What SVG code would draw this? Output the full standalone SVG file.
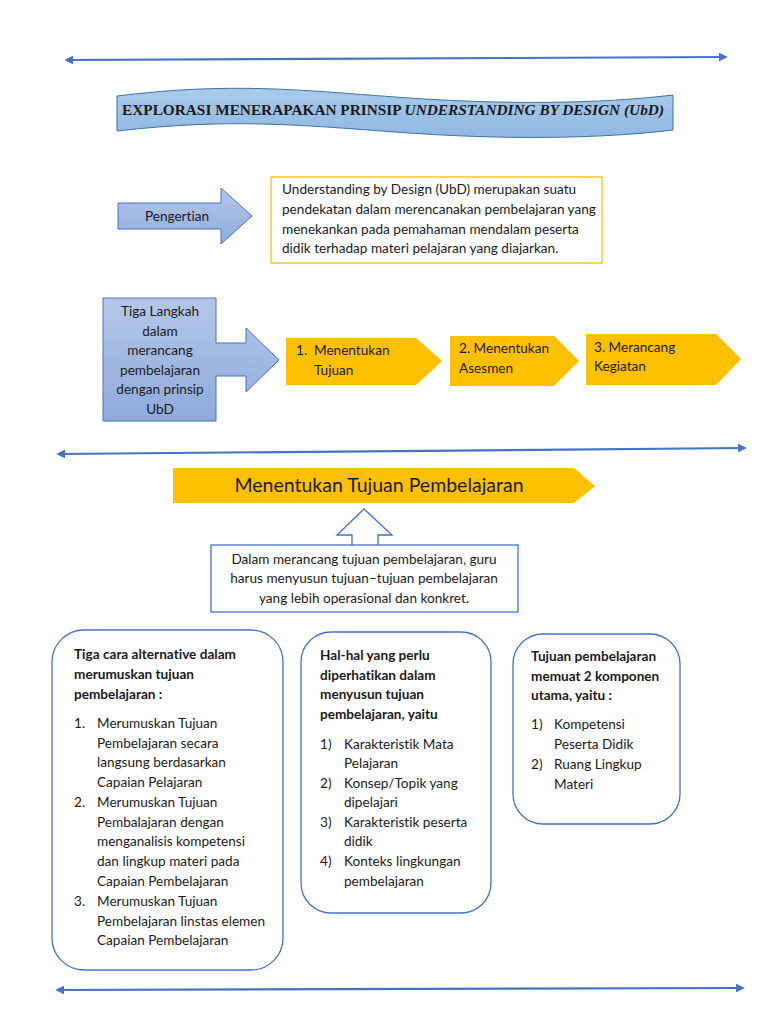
<svg xmlns="http://www.w3.org/2000/svg" width="768" height="1024" viewBox="0 0 768 1024">
<defs>
<marker id="ah" viewBox="0 0 10 10" refX="8" refY="5" markerWidth="4" markerHeight="4" orient="auto-start-reverse">
<path d="M0,0 L10,5 L0,10 z" fill="#4472C4"/>
</marker>
<linearGradient id="blueg" x1="0" y1="0" x2="0" y2="1">
<stop offset="0" stop-color="#B4C7E7"/>
<stop offset="1" stop-color="#8FAADC"/>
</linearGradient>
<linearGradient id="bannerg" x1="0" y1="0" x2="0" y2="1">
<stop offset="0" stop-color="#A9CBEB"/>
<stop offset="1" stop-color="#8FB8E2"/>
</linearGradient>
</defs>
<style>
text{font-family:Lato,"Liberation Sans",sans-serif;font-size:13.6px;fill:#1a1a1a;font-variant-ligatures:none}
.b{font-weight:bold}
.sep{stroke:#4472C4;stroke-width:2.2;fill:none;marker-start:url(#ah);marker-end:url(#ah)}
.gold{fill:#FFC000}
.bl{fill:url(#blueg);stroke:#4472C4;stroke-width:1}
.out{fill:#fff;stroke:#4472C4;stroke-width:1.3}
.c{text-anchor:middle}
</style>
<rect width="768" height="1024" fill="#fff"/>

<g id="connectors">
<line class="sep" x1="66" y1="60" x2="726" y2="57"/>
<line class="sep" x1="58" y1="454" x2="745" y2="448"/>
<line class="sep" x1="57" y1="990" x2="743" y2="988"/>
</g>

<g id="banner">
<path d="M117,96 C230,82 300,90 395,97 C500,105 600,104 673,95 L673,130 C600,139 500,140 395,132 C300,125 230,118 117,131 Z" fill="url(#bannerg)" stroke="#41719C" stroke-width="1"/>
<text x="393" y="115" class="c" style="font-family:'Liberation Serif',serif;font-size:14px;font-weight:bold" textLength="542" lengthAdjust="spacingAndGlyphs">EXPLORASI MENERAPAKAN PRINSIP <tspan font-style="italic">UNDERSTANDING BY DESIGN (UbD)</tspan></text>
</g>

<g id="pengertian">
<path class="bl" d="M118,203 L221,203 L221,188 L252,216 L221,244 L221,229 L118,229 Z"/>
<text x="177" y="221" class="c">Pengertian</text>
</g>

<g id="definisi">
<rect x="271" y="177" width="331" height="86" fill="#fff" stroke="#FFC000" stroke-width="1.3"/>
<text x="282" y="194">Understanding by Design (UbD) merupakan suatu</text>
<text x="282" y="214">pendekatan dalam merencanakan pembelajaran yang</text>
<text x="282" y="234">menekankan pada pemahaman mendalam peserta</text>
<text x="282" y="253">didik terhadap materi pelajaran yang diajarkan.</text>
</g>

<g id="tiga-langkah">
<path class="bl" d="M103,298 L216,298 L216,343 L246,343 L246,328 L279,360 L246,392 L246,376 L216,376 L216,421 L103,421 Z"/>
<text x="160" y="316" class="c">Tiga Langkah</text>
<text x="160" y="336" class="c">dalam</text>
<text x="160" y="355" class="c">merancang</text>
<text x="160" y="375" class="c">pembelajaran</text>
<text x="160" y="394" class="c">dengan prinsip</text>
<text x="160" y="414" class="c">UbD</text>
</g>

<g id="langkah-1">
<path class="gold" d="M286,338 L416,338 L442,361 L416,385 L286,385 Z"/>
<text x="296" y="355">1.</text>
<text x="314" y="355">Menentukan</text>
<text x="314" y="375">Tujuan</text>
</g>
<g id="langkah-2">
<path class="gold" d="M450,336 L554,336 L579,361 L554,386 L450,386 Z"/>
<text x="459" y="353">2. Menentukan</text>
<text x="459" y="373">Asesmen</text>
</g>
<g id="langkah-3">
<path class="gold" d="M586,334 L716,334 L741,359 L716,385 L586,385 Z"/>
<text x="594" y="352">3. Merancang</text>
<text x="594" y="371">Kegiatan</text>
</g>

<g id="judul-tujuan">
<path class="gold" d="M173,468 L574,468 L595,486 L574,503 L173,503 Z"/>
<text x="379" y="492" class="c" style="font-size:19.5px">Menentukan Tujuan Pembelajaran</text>
</g>

<g id="panah-atas">
<path class="out" d="M352,545 L352,535 L337,535 L364,509 L392,535 L378,535 L378,545"/>
</g>

<g id="penjelasan">
<rect class="out" x="211" y="545" width="307" height="67"/>
<text x="364" y="564" class="c">Dalam merancang tujuan pembelajaran, guru</text>
<text x="364" y="583" class="c">harus menyusun tujuan–tujuan pembelajaran</text>
<text x="364" y="603" class="c">yang lebih operasional dan konkret.</text>
</g>

<g id="tiga-cara">
<rect class="out" x="52" y="630" width="231" height="340" rx="32"/>
<text x="74" y="659" class="b">Tiga cara alternative dalam</text>
<text x="74" y="679" class="b">merumuskan tujuan</text>
<text x="74" y="699" class="b">pembelajaran :</text>
<text x="74" y="728">1.</text>
<text x="97" y="728">Merumuskan Tujuan</text>
<text x="97" y="748">Pembelajaran secara</text>
<text x="97" y="767">langsung berdasarkan</text>
<text x="97" y="787">Capaian Pelajaran</text>
<text x="74" y="807">2.</text>
<text x="97" y="807">Merumuskan Tujuan</text>
<text x="97" y="827">Pembalajaran dengan</text>
<text x="97" y="846">menganalisis kompetensi</text>
<text x="97" y="866">dan lingkup materi pada</text>
<text x="97" y="886">Capaian Pembelajaran</text>
<text x="74" y="906">3.</text>
<text x="97" y="906">Merumuskan Tujuan</text>
<text x="97" y="926">Pembelajaran linstas elemen</text>
<text x="97" y="945">Capaian Pembelajaran</text>
</g>

<g id="hal-hal">
<rect class="out" x="301" y="632" width="190" height="281" rx="30"/>
<text x="320" y="660" class="b">Hal-hal yang perlu</text>
<text x="320" y="680" class="b">diperhatikan dalam</text>
<text x="320" y="699" class="b">menyusun tujuan</text>
<text x="320" y="719" class="b">pembelajaran, yaitu</text>
<text x="320" y="749">1)</text>
<text x="344" y="749">Karakteristik Mata</text>
<text x="344" y="768">Pelajaran</text>
<text x="320" y="788">2)</text>
<text x="344" y="788">Konsep/Topik yang</text>
<text x="344" y="807">dipelajari</text>
<text x="320" y="827">3)</text>
<text x="344" y="827">Karakteristik peserta</text>
<text x="344" y="846">didik</text>
<text x="320" y="866">4)</text>
<text x="344" y="866">Konteks lingkungan</text>
<text x="344" y="886">pembelajaran</text>
</g>

<g id="komponen">
<rect class="out" x="513" y="634" width="167" height="190" rx="30"/>
<text x="531" y="661" class="b">Tujuan pembelajaran</text>
<text x="531" y="681" class="b">memuat 2 komponen</text>
<text x="531" y="700" class="b">utama, yaitu :</text>
<text x="531" y="729">1)</text>
<text x="554" y="729">Kompetensi</text>
<text x="554" y="749">Peserta Didik</text>
<text x="531" y="769">2)</text>
<text x="554" y="769">Ruang Lingkup</text>
<text x="554" y="789">Materi</text>
</g>
</svg>
